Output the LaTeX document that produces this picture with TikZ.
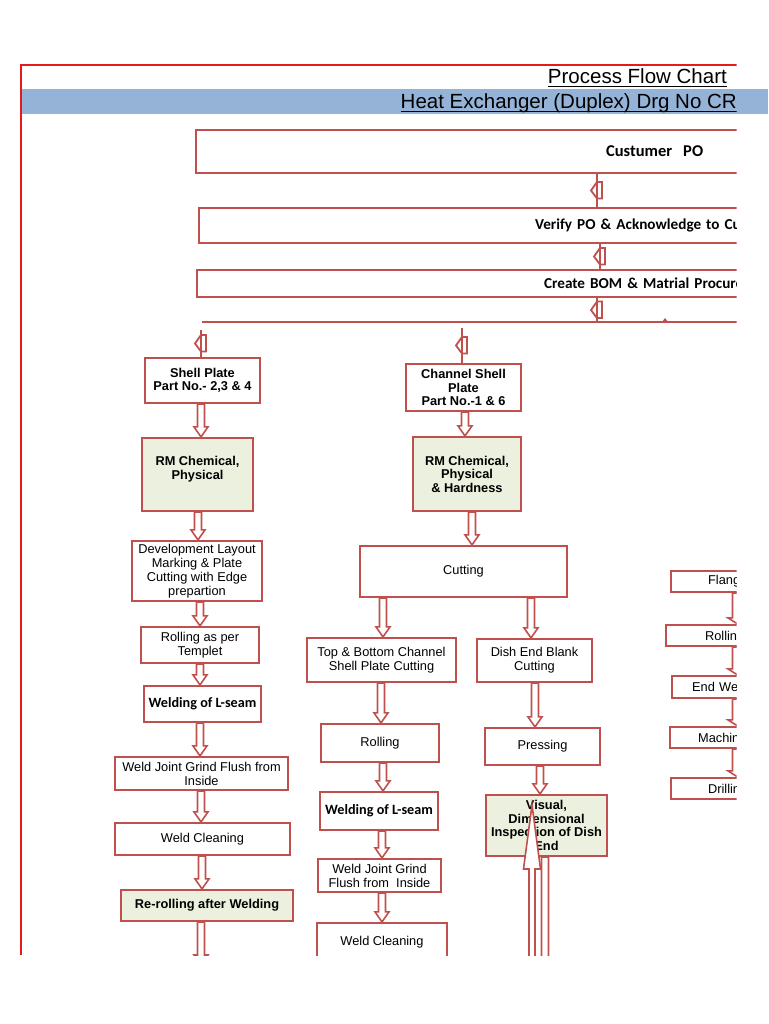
\documentclass[tikz,border=0pt]{standalone}
\usepackage{fontspec}
\setmainfont{Liberation Sans}
\newfontfamily\calfont{Carlito}
\usetikzlibrary{calc}
\definecolor{bred}{HTML}{C0504D}
\definecolor{fred}{HTML}{E51A1A}
\definecolor{bandblue}{HTML}{95B3D7}
\definecolor{gfill}{HTML}{EBF1DE}
\tikzset{
  bx/.style={draw=bred, line width=2.2pt, fill=white, inner sep=0pt, align=center,
    font=\fontsize{12.8}{14}\selectfont},
  bxg/.style={bx, fill=gfill},
  bd/.style={font=\fontsize{12.8}{13.5}\selectfont\bfseries},
  cb/.style={font=\fontsize{14.2}{16}\selectfont\calfont\bfseries},
  cbig/.style={font=\fontsize{15.2}{17}\selectfont\calfont\bfseries},
  blk/.style={draw=bred, line width=1.6pt, fill=white, line join=miter},
  sblk/.style={draw=bred, line width=1.8pt, fill=white},
  frameline/.style={draw=fred, line width=1.8pt},
  busline/.style={draw=bred, line width=1.8pt},
  ulines/.style={draw=black, line width=1pt},
  clipbox/.style={bx, anchor=west, align=left, text width=100pt},
}
% hollow block arrow pointing down, x given, from anchor to anchor
\newcommand\hdown[3]{%
  \draw[blk] let \p1=(#2), \p2=(#3) in
  (#1pt-3.5pt,\y1) -- (#1pt+3.5pt,\y1) -- (#1pt+3.5pt,\y2+10pt) -- (#1pt+7pt,\y2+10pt)
  -- (#1pt,\y2) -- (#1pt-7pt,\y2+10pt) -- (#1pt-3.5pt,\y2+10pt) -- cycle;}
% right column (clipped) arrows
\newcommand\rdown[3]{%
  \draw[blk] let \p1=(#2), \p2=(#3) in
  (#1pt-5pt,\y1) -- (#1pt+5pt,\y1) -- (#1pt+5pt,\y2+6pt) -- (#1pt+9.5pt,\y2+6pt)
  -- (#1pt,\y2) -- (#1pt-9.5pt,\y2+6pt) -- (#1pt-5pt,\y2+6pt) -- cycle;}
% small pentagon arrows
\newcommand\sarr[3]{%
  \draw[sblk] let \p1=(#2), \p2=(#3), \p3=($(#2)!0.5!(#3)$) in
  (#1pt,\y1) -- (#1pt,\y2)
  (#1pt-6pt,\y3) -- (#1pt,\y3+8.5pt) -- (#1pt+5pt,\y3+8.5pt) -- (#1pt+5pt,\y3-8pt)
  -- (#1pt,\y3-8pt) -- cycle;}
\begin{document}
\begin{tikzpicture}[x=1pt,y=-1pt]
\useasboundingbox (0,0) rectangle (768,1024);
\fill[white] (0,0) rectangle (768,1024);
% blue band
\fill[bandblue] (22,89) rectangle (768,114);
\begin{scope}
\clip (0,0) rectangle (736.5,955);
% frame
\draw[frameline] (21,955) -- (21,65) -- (740,65);
% titles
\node[anchor=base east, inner sep=0pt, font=\fontsize{20.5}{22}\selectfont] (title) at (727,84) {Process Flow Chart};
\node[anchor=base east, inner sep=0pt, font=\fontsize{20.5}{22}\selectfont] (subtitle) at (737,109) {Heat Exchanger (Duplex) Drg No CR};
\draw[ulines] ($(title.base west)+(0,2.5)$) -- ($(title.base east)+(0,2.5)$);
\draw[ulines] ($(subtitle.base west)+(0,2.5)$) -- ($(subtitle.base east)+(0,2.5)$);

% top boxes
\node[bx, cbig, font=\fontsize{16.5}{18}\selectfont\calfont\bfseries, anchor=west, align=left, inner xsep=410pt, text width=200pt, minimum height=43] (po) at (195,151.5) {Custumer~~PO};
\node[bx, cbig, anchor=west, align=left, inner xsep=336pt, text width=300pt, minimum height=35] (verify) at (198,225.5) {Verify PO \& Acknowledge to Cu};
\node[bx, cbig, anchor=west, align=left, inner xsep=347pt, text width=300pt, minimum height=27] (bom) at (196,283.5) {Create BOM \& Matrial Procure};

\sarr{597}{po.south}{verify.north}
\sarr{600}{verify.south}{bom.north}

% bus
\coordinate (busL) at (202,322);
\coordinate (busR) at (760,322);
\coordinate (busA) at (597,322);
\coordinate (bus1) at (201,330);
\coordinate (bus2) at (462,328);
\draw[busline] (busL) -- (busR);
\fill[bred] (662,322) -- (665,318) -- (668,322) -- cycle;
\sarr{597}{bom.south}{busA}

% left column
\node[bx, bd, minimum width=115, minimum height=45] (shell) at (202.5,380.5) {Shell Plate\\Part No.- 2,3 \& 4};
\node[bxg, bd, minimum width=111, minimum height=73] (rm1) at (197.5,474.5) {RM Chemical,\\Physical\\\mbox{}};
\node[bx, minimum width=130, minimum height=60] (dev) at (197,571) {Development Layout\\Marking \& Plate\\Cutting with Edge\\prepartion};
\node[bx, minimum width=118, minimum height=36] (roll1) at (200,645) {Rolling as per\\Templet};
\node[bx, cb, minimum width=117, minimum height=36] (weld1) at (202.5,704) {Welding of L-seam};
\node[bx, minimum width=173, minimum height=33] (grind1) at (201.5,773.5) {Weld Joint Grind Flush from\\Inside};
\node[bx, minimum width=175, minimum height=32] (clean1) at (202.5,839) {Weld Cleaning};
\node[bxg, bd, minimum width=172, minimum height=31] (reroll) at (207,905.5) {Re-rolling after Welding};
\coordinate (rrend) at (201,965);

\sarr{201}{bus1}{shell.north}
\hdown{201}{shell.south}{rm1.north}
\hdown{198}{rm1.south}{dev.north}
\hdown{200}{dev.south}{roll1.north}
\hdown{200}{roll1.south}{weld1.north}
\hdown{200}{weld1.south}{grind1.north}
\hdown{201}{grind1.south}{clean1.north}
\hdown{202}{clean1.south}{reroll.north}
\hdown{201}{reroll.south}{rrend}

% middle column
\node[bx, bd, minimum width=115, minimum height=47] (chs) at (463.5,387.5) {Channel Shell\\Plate\\Part No.-1 \& 6};
\node[bxg, bd, minimum width=108, minimum height=74] (rm2) at (467,474) {RM Chemical,\\Physical\\\& Hardness};
\node[bx, minimum width=207, minimum height=51] (cut) at (463.5,571.5) {Cutting};
\node[bx, minimum width=149, minimum height=44] (tb) at (381.5,660) {Top \& Bottom Channel\\Shell Plate Cutting};
\node[bx, minimum width=115, minimum height=43] (dish) at (534.5,660.5) {Dish End Blank\\Cutting};
\node[bx, minimum width=118, minimum height=38] (roll2) at (380,743) {Rolling};
\node[bx, cb, minimum width=118, minimum height=38] (weld2) at (379,811) {Welding of L-seam};
\node[bx, minimum width=123, minimum height=33] (grind2) at (379.5,875.5) {Weld Joint Grind\\Flush from~ Inside};
\node[bx, minimum width=130, minimum height=38] (clean2) at (382,942) {Weld Cleaning};
\node[bx, minimum width=115, minimum height=37] (press) at (542.5,746.5) {Pressing};
\node[bxg, bd, minimum width=121, minimum height=61] (vis) at (546.5,825.5) {Visual,\\Dimensional\\Inspection of Dish\\End};
\coordinate (visend) at (545,1010);
\coordinate (upbase) at (532,1000);
\coordinate (uptip) at (532,805);

\sarr{462}{bus2}{chs.north}
\hdown{465}{chs.south}{rm2.north}
\hdown{472}{rm2.south}{cut.north}
\hdown{383}{cut.south}{tb.north}
\hdown{531}{cut.south}{dish.north}
\hdown{381}{tb.south}{roll2.north}
\hdown{383}{roll2.south}{weld2.north}
\hdown{382}{weld2.south}{grind2.north}
\hdown{382}{grind2.south}{clean2.north}
\hdown{535}{dish.south}{press.north}
\hdown{540}{press.south}{vis.north}
\hdown{545}{vis.south}{visend}
% big upward arrow over the inspection box
\draw[blk] let \p1=(upbase), \p2=(uptip) in
  (\x2-3pt,\y1) -- (\x2-3pt,\y2-64pt) -- (\x2-8.5pt,\y2-64pt) -- (\x2,\y2)
  -- (\x2+8.5pt,\y2-64pt) -- (\x2+3pt,\y2-64pt) -- (\x2+3pt,\y1);

% right column (clipped)
\node[clipbox, inner xsep=37pt, minimum height=21] (flang) at (670,581.5) {Flang};
\node[clipbox, inner xsep=39pt, minimum height=21] (roll3) at (665,635.5) {Rollin};
\node[clipbox, inner xsep=20pt, minimum height=22] (endwe) at (671,687) {End We};
\node[clipbox, inner xsep=28pt, minimum height=21] (machin) at (669,737.5) {Machin};
\node[clipbox, inner xsep=37pt, minimum height=21] (drill) at (670,788.5) {Drillin};
\rdown{737.5}{flang.south}{roll3.north}
\rdown{737.5}{roll3.south}{endwe.north}
\rdown{737.5}{endwe.south}{machin.north}
\rdown{737.5}{machin.south}{drill.north}
\end{scope}
\end{tikzpicture}
\end{document}
